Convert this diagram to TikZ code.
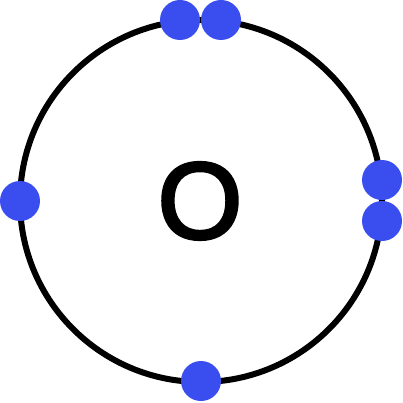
\documentclass[tikz,border=0pt]{standalone}
\usepackage{fontspec}
\setmainfont{Liberation Sans}
\newfontfamily\nucfont{Liberation Sans}[BoldFont={Liberation Sans}, BoldFeatures={FakeBold=2.8}]
\definecolor{electron}{HTML}{3A4EF0}
\begin{document}
\begin{tikzpicture}[x=1pt,y=-1pt]
\useasboundingbox (0,0) rectangle (403,403);
\node[circle, draw, line width=6pt, minimum size=362pt, inner sep=0pt] (orbit) at (201,201){};
\node[font=\fontsize{109}{109}\nucfont\bfseries, inner sep=0pt] (nuc) at (200,201){O};
\node[circle, fill=electron, minimum size=40pt, inner sep=0pt] (e1) at (180,20){};
\node[circle, fill=electron, minimum size=40pt, inner sep=0pt] (e2) at (221,20){};
\node[circle, fill=electron, minimum size=40pt, inner sep=0pt] (e3) at (382,180){};
\node[circle, fill=electron, minimum size=40pt, inner sep=0pt] (e4) at (382,221){};
\node[circle, fill=electron, minimum size=40pt, inner sep=0pt] (e5) at (201,381){};
\node[circle, fill=electron, minimum size=40pt, inner sep=0pt] (e6) at (20,201){};
\end{tikzpicture}
\end{document}
